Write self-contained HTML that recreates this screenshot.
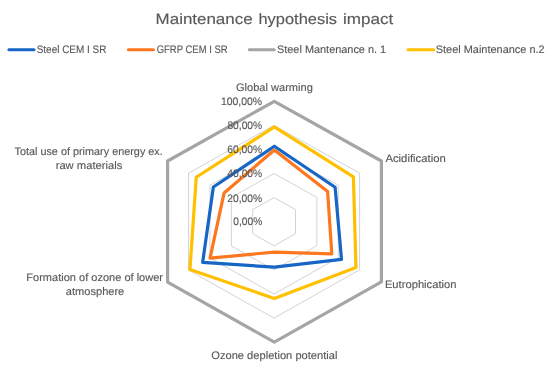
<!DOCTYPE html><html><head><meta charset="utf-8"><title>Maintenance hypothesis impact</title>
<style>html,body{margin:0;padding:0;background:#fff;}svg{display:block;}text{font-family:"Liberation Sans",sans-serif;fill:#595959;stroke:#595959;stroke-width:0.14px;text-rendering:geometricPrecision;}</style></head><body>
<svg width="550" height="367" viewBox="0 0 550 367">
<rect width="550" height="367" fill="#ffffff"/>
<polygon points="274.06,197.62 295.48,209.56 295.48,233.72 274.06,245.80 252.72,233.80 252.72,209.56" fill="none" stroke="#d3d3d3" stroke-width="1.0"/>
<polygon points="274.02,173.54 316.86,197.42 316.86,245.74 274.02,269.90 231.34,245.90 231.34,197.42" fill="none" stroke="#d3d3d3" stroke-width="1.0"/>
<polygon points="273.98,149.46 338.24,185.28 338.24,257.76 273.98,294.00 209.96,258.00 209.96,185.28" fill="none" stroke="#d3d3d3" stroke-width="1.0"/>
<polygon points="273.94,125.38 359.62,173.14 359.62,269.78 273.94,318.10 188.58,270.10 188.58,173.14" fill="none" stroke="#d3d3d3" stroke-width="1.0"/>
<polygon points="273.90,101.30 381.00,161.00 381.00,281.80 273.90,342.20 167.20,282.20 167.20,161.00" fill="none" stroke="#d3d3d3" stroke-width="1.0"/>
<polygon points="274.37,146.21 335.11,187.28 341.53,259.38 274.42,267.13 202.66,262.36 213.35,186.98" fill="none" stroke="#1766c6" stroke-width="3.2" stroke-linejoin="round"/>
<polygon points="274.38,150.06 327.63,191.53 331.80,253.91 274.45,252.07 210.04,258.18 224.04,193.05" fill="none" stroke="#fd771f" stroke-width="3.2" stroke-linejoin="round"/>
<polygon points="274.30,101.30 381.40,161.00 381.40,281.80 274.30,342.20 167.60,282.20 167.60,161.00" fill="none" stroke="#a5a5a5" stroke-width="3.2" stroke-linejoin="round"/>
<polygon points="274.34,126.95 353.39,176.90 355.96,267.50 274.37,298.46 189.94,269.56 196.25,177.27" fill="none" stroke="#ffc000" stroke-width="3.2" stroke-linejoin="round"/>
<line x1="8.9" y1="49.7" x2="34.0" y2="49.7" stroke="#1766c6" stroke-width="3.0" stroke-linecap="round"/>
<line x1="128.4" y1="49.7" x2="153.5" y2="49.7" stroke="#fd771f" stroke-width="3.0" stroke-linecap="round"/>
<line x1="249.3" y1="49.7" x2="274.3" y2="49.7" stroke="#a5a5a5" stroke-width="3.0" stroke-linecap="round"/>
<line x1="408.0" y1="49.7" x2="433.7" y2="49.7" stroke="#ffc000" stroke-width="3.0" stroke-linecap="round"/>
<text y="24" font-size="15.0"><tspan x="155.63" textLength="96.97" lengthAdjust="spacingAndGlyphs">Maintenance</tspan> <tspan x="258.44" textLength="78.64" lengthAdjust="spacingAndGlyphs">hypothesis</tspan> <tspan x="342.93" textLength="50.24" lengthAdjust="spacingAndGlyphs">impact</tspan></text>
<text x="36.7" y="53" font-size="10.9" textLength="69.73" lengthAdjust="spacingAndGlyphs">Steel CEM I SR</text>
<text x="156.68" y="53" font-size="10.9" textLength="70.98" lengthAdjust="spacingAndGlyphs">GFRP CEM I SR</text>
<text x="276.99" y="53" font-size="10.9" textLength="109.17" lengthAdjust="spacingAndGlyphs">Steel Mantenance n. 1</text>
<text x="435.75" y="53" font-size="10.9" textLength="108.85" lengthAdjust="spacingAndGlyphs">Steel Maintenance n.2</text>
<text x="220.89" y="105" font-size="10.9" textLength="41.25" lengthAdjust="spacingAndGlyphs">100,00%</text>
<text x="227.38" y="129" font-size="10.9" textLength="34.79" lengthAdjust="spacingAndGlyphs">80,00%</text>
<text x="227.2" y="153" font-size="10.9" textLength="34.93" lengthAdjust="spacingAndGlyphs">60,00%</text>
<text x="227.33" y="177" font-size="10.9" textLength="34.9" lengthAdjust="spacingAndGlyphs">40,00%</text>
<text x="227.35" y="202" font-size="10.9" textLength="34.8" lengthAdjust="spacingAndGlyphs">20,00%</text>
<text x="233.3" y="225" font-size="10.9" textLength="28.95" lengthAdjust="spacingAndGlyphs">0,00%</text>
<text x="235.94" y="91" font-size="10.9" textLength="76.86" lengthAdjust="spacingAndGlyphs">Global warming</text>
<text x="385.41" y="162" font-size="10.9" textLength="60.39" lengthAdjust="spacingAndGlyphs">Acidification</text>
<text x="384.92" y="288" font-size="10.9" textLength="71.54" lengthAdjust="spacingAndGlyphs">Eutrophication</text>
<text x="211.24" y="359" font-size="10.9" textLength="126.24" lengthAdjust="spacingAndGlyphs">Ozone depletion potential</text>
<text x="26.34" y="281" font-size="10.9" textLength="136.68" lengthAdjust="spacingAndGlyphs">Formation of ozone of lower</text>
<text x="65.89" y="295" font-size="10.9" textLength="58.39" lengthAdjust="spacingAndGlyphs">atmosphere</text>
<text x="14.48" y="155" font-size="10.9" textLength="148.33" lengthAdjust="spacingAndGlyphs">Total use of primary energy ex.</text>
<text x="55.65" y="169" font-size="10.9" textLength="66.71" lengthAdjust="spacingAndGlyphs">raw materials</text>
</svg></body></html>
